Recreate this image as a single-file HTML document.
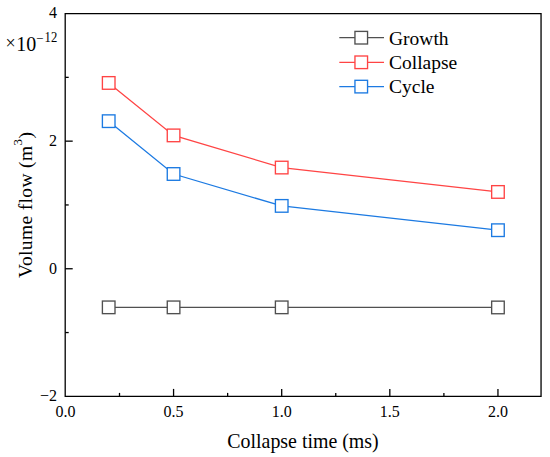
<!DOCTYPE html>
<html><head><meta charset="utf-8"><style>
html,body{margin:0;padding:0;background:#fff;width:550px;height:457px;overflow:hidden}
svg{display:block}
text{font-family:"Liberation Serif",serif;fill:#000}
</style></head><body>
<svg width="550" height="457" viewBox="0 0 550 457">
<path d="M65.2 13.55H541.05V396.4H65.2Z" fill="none" stroke="#000" stroke-width="1.3"/>
<line x1="119.51" y1="396.4" x2="119.51" y2="392.9" stroke="#000" stroke-width="1.3"/>
<line x1="173.57" y1="396.4" x2="173.57" y2="388.9" stroke="#000" stroke-width="1.3"/>
<line x1="227.64" y1="396.4" x2="227.64" y2="392.9" stroke="#000" stroke-width="1.3"/>
<line x1="281.70" y1="396.4" x2="281.70" y2="388.9" stroke="#000" stroke-width="1.3"/>
<line x1="335.76" y1="396.4" x2="335.76" y2="392.9" stroke="#000" stroke-width="1.3"/>
<line x1="389.82" y1="396.4" x2="389.82" y2="388.9" stroke="#000" stroke-width="1.3"/>
<line x1="443.89" y1="396.4" x2="443.89" y2="392.9" stroke="#000" stroke-width="1.3"/>
<line x1="497.95" y1="396.4" x2="497.95" y2="388.9" stroke="#000" stroke-width="1.3"/>
<line x1="65.2" y1="332.55" x2="68.7" y2="332.55" stroke="#000" stroke-width="1.3"/>
<line x1="65.2" y1="268.75" x2="72.7" y2="268.75" stroke="#000" stroke-width="1.3"/>
<line x1="65.2" y1="204.95" x2="68.7" y2="204.95" stroke="#000" stroke-width="1.3"/>
<line x1="65.2" y1="141.15" x2="72.7" y2="141.15" stroke="#000" stroke-width="1.3"/>
<line x1="65.2" y1="77.35" x2="68.7" y2="77.35" stroke="#000" stroke-width="1.3"/>
<text x="65.45" y="416.6" text-anchor="middle" font-size="16">0.0</text>
<text x="173.57" y="416.6" text-anchor="middle" font-size="16">0.5</text>
<text x="281.70" y="416.6" text-anchor="middle" font-size="16">1.0</text>
<text x="389.82" y="416.6" text-anchor="middle" font-size="16">1.5</text>
<text x="497.95" y="416.6" text-anchor="middle" font-size="16">2.0</text>
<text x="57" y="18.15" text-anchor="end" font-size="16">4</text>
<text x="57" y="145.55" text-anchor="end" font-size="16">2</text>
<text x="57" y="273.95" text-anchor="end" font-size="16">0</text>
<text x="57" y="400.85" text-anchor="end" font-size="16">−2</text>
<text x="5.4" y="49.3" font-size="18">×</text>
<text x="16.28" y="50.5" font-size="20">10</text>
<text x="36" y="43" font-size="13">−</text>
<text transform="translate(44.6,41.8) scale(0.93,1)" font-size="13.6">12</text>
<text x="303" y="448" text-anchor="middle" font-size="19.9">Collapse time (ms)</text>
<text transform="translate(31.8,278) rotate(-90)" font-size="19.5" letter-spacing="0.36">Volume flow (m<tspan dy="-9.5" font-size="13">3</tspan><tspan dy="9.5">)</tspan></text>
<polyline points="108.70,307.35 173.57,307.35 281.70,307.35 497.95,307.45" fill="none" stroke="#505050" stroke-width="1.3"/>
<rect x="102.40" y="301.05" width="12.6" height="12.6" fill="#fff" stroke="#505050" stroke-width="1.35"/>
<rect x="167.27" y="301.05" width="12.6" height="12.6" fill="#fff" stroke="#505050" stroke-width="1.35"/>
<rect x="275.40" y="301.05" width="12.6" height="12.6" fill="#fff" stroke="#505050" stroke-width="1.35"/>
<rect x="491.65" y="301.15" width="12.6" height="12.6" fill="#fff" stroke="#505050" stroke-width="1.35"/>
<polyline points="108.70,82.95 173.57,135.40 281.70,167.55 497.95,191.95" fill="none" stroke="#FF4444" stroke-width="1.3"/>
<rect x="102.40" y="76.65" width="12.6" height="12.6" fill="#fff" stroke="#FF4444" stroke-width="1.35"/>
<rect x="167.27" y="129.10" width="12.6" height="12.6" fill="#fff" stroke="#FF4444" stroke-width="1.35"/>
<rect x="275.40" y="161.25" width="12.6" height="12.6" fill="#fff" stroke="#FF4444" stroke-width="1.35"/>
<rect x="491.65" y="185.65" width="12.6" height="12.6" fill="#fff" stroke="#FF4444" stroke-width="1.35"/>
<polyline points="108.70,121.17 173.57,174.00 281.70,205.90 497.95,230.20" fill="none" stroke="#1C7AE2" stroke-width="1.3"/>
<rect x="102.40" y="114.87" width="12.6" height="12.6" fill="#fff" stroke="#1C7AE2" stroke-width="1.35"/>
<rect x="167.27" y="167.70" width="12.6" height="12.6" fill="#fff" stroke="#1C7AE2" stroke-width="1.35"/>
<rect x="275.40" y="199.60" width="12.6" height="12.6" fill="#fff" stroke="#1C7AE2" stroke-width="1.35"/>
<rect x="491.65" y="223.90" width="12.6" height="12.6" fill="#fff" stroke="#1C7AE2" stroke-width="1.35"/>
<line x1="339.3" y1="37.7" x2="384" y2="37.7" stroke="#505050" stroke-width="1.3"/>
<rect x="354.95" y="31.40" width="12.6" height="12.6" fill="#fff" stroke="#505050" stroke-width="1.35"/>
<text x="389" y="44.70" font-size="19.5">Growth</text>
<line x1="339.3" y1="62.3" x2="384" y2="62.3" stroke="#FF4444" stroke-width="1.3"/>
<rect x="354.95" y="56.00" width="12.6" height="12.6" fill="#fff" stroke="#FF4444" stroke-width="1.35"/>
<text x="389" y="68.80" font-size="19.5">Collapse</text>
<line x1="339.3" y1="86.6" x2="384" y2="86.6" stroke="#1C7AE2" stroke-width="1.3"/>
<rect x="354.95" y="80.30" width="12.6" height="12.6" fill="#fff" stroke="#1C7AE2" stroke-width="1.35"/>
<text x="389" y="92.70" font-size="19.5">Cycle</text>
</svg></body></html>
